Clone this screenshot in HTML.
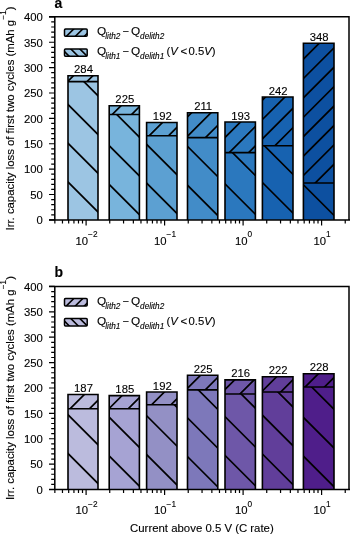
<!DOCTYPE html>
<html><head><meta charset="utf-8"><style>
html,body{margin:0;padding:0;background:#fff;width:350px;height:534px;overflow:hidden}
svg{display:block;will-change:transform}
text{font-family:"Liberation Sans", sans-serif;fill:#000;stroke:#000;stroke-width:0.12px}
</style></head><body>
<svg width="350" height="534" viewBox="0 0 350 534">
<clipPath id="c1"><rect x="68.00" y="81.67" width="30.00" height="138.23"/></clipPath>
<rect x="68.00" y="81.67" width="30.00" height="138.23" fill="#9cc5e3"/>
<path d="M156.53,76.67L304.76,224.90M117.75,76.67L265.98,224.90M78.97,76.67L227.20,224.90M40.19,76.67L188.42,224.90M1.41,76.67L149.64,224.90M-37.37,76.67L110.86,224.90M-76.15,76.67L72.08,224.90M-114.93,76.67L33.30,224.90" stroke="#000" stroke-width="1.7" fill="none" clip-path="url(#c1)"/>
<clipPath id="c2"><rect x="68.00" y="75.73" width="30.00" height="5.94"/></clipPath>
<rect x="68.00" y="75.73" width="30.00" height="5.94" fill="#9cc5e3"/>
<path d="M39.69,70.73L23.75,86.67M59.08,70.73L43.14,86.67M78.47,70.73L62.53,86.67M97.86,70.73L81.92,86.67M117.25,70.73L101.31,86.67M136.64,70.73L120.70,86.67" stroke="#000" stroke-width="1.7" fill="none" clip-path="url(#c2)"/>
<path d="M68.0,219.90V75.73H98.0V219.90M68.0,81.67H98.0" stroke="#000" stroke-width="1.6" fill="none" stroke-linejoin="miter"/>
<text x="83.50" y="73.33" font-size="11.3" text-anchor="middle">284</text>
<clipPath id="c3"><rect x="109.20" y="114.52" width="30.20" height="105.38"/></clipPath>
<rect x="109.20" y="114.52" width="30.20" height="105.38" fill="#78b4dc"/>
<path d="M189.38,109.52L304.76,224.90M150.60,109.52L265.98,224.90M111.82,109.52L227.20,224.90M73.04,109.52L188.42,224.90M34.26,109.52L149.64,224.90M-4.52,109.52L110.86,224.90M-43.30,109.52L72.08,224.90" stroke="#000" stroke-width="1.7" fill="none" clip-path="url(#c3)"/>
<clipPath id="c4"><rect x="109.20" y="105.68" width="30.20" height="8.83"/></clipPath>
<rect x="109.20" y="105.68" width="30.20" height="8.83" fill="#78b4dc"/>
<path d="M87.30,100.68L68.46,119.52M106.69,100.68L87.85,119.52M126.08,100.68L107.24,119.52M145.47,100.68L126.63,119.52M164.86,100.68L146.02,119.52M184.25,100.68L165.41,119.52" stroke="#000" stroke-width="1.7" fill="none" clip-path="url(#c4)"/>
<path d="M109.2,219.90V105.68H139.4V219.90M109.2,114.52H139.4" stroke="#000" stroke-width="1.6" fill="none" stroke-linejoin="miter"/>
<text x="124.80" y="103.28" font-size="11.3" text-anchor="middle">225</text>
<clipPath id="c5"><rect x="146.60" y="135.69" width="30.40" height="84.21"/></clipPath>
<rect x="146.60" y="135.69" width="30.40" height="84.21" fill="#5ca0d2"/>
<path d="M249.33,130.69L343.54,224.90M210.55,130.69L304.76,224.90M171.77,130.69L265.98,224.90M132.99,130.69L227.20,224.90M94.21,130.69L188.42,224.90M55.43,130.69L149.64,224.90M16.65,130.69L110.86,224.90" stroke="#000" stroke-width="1.7" fill="none" clip-path="url(#c5)"/>
<clipPath id="c6"><rect x="146.60" y="122.44" width="30.40" height="13.25"/></clipPath>
<rect x="146.60" y="122.44" width="30.40" height="13.25" fill="#5ca0d2"/>
<path d="M128.71,117.44L105.46,140.69M148.10,117.44L124.85,140.69M167.49,117.44L144.24,140.69M186.88,117.44L163.63,140.69M206.27,117.44L183.02,140.69M225.66,117.44L202.41,140.69" stroke="#000" stroke-width="1.7" fill="none" clip-path="url(#c6)"/>
<path d="M146.6,219.90V122.44H177.0V219.90M146.6,135.69H177.0" stroke="#000" stroke-width="1.6" fill="none" stroke-linejoin="miter"/>
<text x="162.30" y="120.04" font-size="11.3" text-anchor="middle">192</text>
<clipPath id="c7"><rect x="187.50" y="137.61" width="30.30" height="82.29"/></clipPath>
<rect x="187.50" y="137.61" width="30.30" height="82.29" fill="#428cc8"/>
<path d="M290.03,132.61L382.32,224.90M251.25,132.61L343.54,224.90M212.47,132.61L304.76,224.90M173.69,132.61L265.98,224.90M134.91,132.61L227.20,224.90M96.13,132.61L188.42,224.90M57.35,132.61L149.64,224.90" stroke="#000" stroke-width="1.7" fill="none" clip-path="url(#c7)"/>
<clipPath id="c8"><rect x="187.50" y="112.79" width="30.30" height="24.82"/></clipPath>
<rect x="187.50" y="112.79" width="30.30" height="24.82" fill="#428cc8"/>
<path d="M157.75,107.79L122.93,142.61M177.14,107.79L142.32,142.61M196.53,107.79L161.71,142.61M215.92,107.79L181.10,142.61M235.31,107.79L200.49,142.61M254.70,107.79L219.88,142.61M274.09,107.79L239.27,142.61" stroke="#000" stroke-width="1.7" fill="none" clip-path="url(#c8)"/>
<path d="M187.5,219.90V112.79H217.8V219.90M187.5,137.61H217.8" stroke="#000" stroke-width="1.6" fill="none" stroke-linejoin="miter"/>
<text x="203.15" y="110.39" font-size="11.3" text-anchor="middle">211</text>
<clipPath id="c9"><rect x="225.00" y="152.59" width="30.40" height="67.31"/></clipPath>
<rect x="225.00" y="152.59" width="30.40" height="67.31" fill="#2b78be"/>
<path d="M305.01,147.59L382.32,224.90M266.23,147.59L343.54,224.90M227.45,147.59L304.76,224.90M188.67,147.59L265.98,224.90M149.89,147.59L227.20,224.90M111.11,147.59L188.42,224.90" stroke="#000" stroke-width="1.7" fill="none" clip-path="url(#c9)"/>
<clipPath id="c10"><rect x="225.00" y="121.93" width="30.40" height="30.66"/></clipPath>
<rect x="225.00" y="121.93" width="30.40" height="30.66" fill="#2b78be"/>
<path d="M206.78,116.93L166.12,157.59M226.17,116.93L185.51,157.59M245.56,116.93L204.90,157.59M264.95,116.93L224.29,157.59M284.34,116.93L243.68,157.59M303.73,116.93L263.07,157.59M323.12,116.93L282.46,157.59" stroke="#000" stroke-width="1.7" fill="none" clip-path="url(#c10)"/>
<path d="M225.0,219.90V121.93H255.4V219.90M225.0,152.59H255.4" stroke="#000" stroke-width="1.6" fill="none" stroke-linejoin="miter"/>
<text x="240.70" y="119.53" font-size="11.3" text-anchor="middle">193</text>
<clipPath id="c11"><rect x="262.40" y="145.79" width="30.60" height="74.11"/></clipPath>
<rect x="262.40" y="145.79" width="30.60" height="74.11" fill="#1762b0"/>
<path d="M336.99,140.79L421.10,224.90M298.21,140.79L382.32,224.90M259.43,140.79L343.54,224.90M220.65,140.79L304.76,224.90M181.87,140.79L265.98,224.90M143.09,140.79L227.20,224.90" stroke="#000" stroke-width="1.7" fill="none" clip-path="url(#c11)"/>
<clipPath id="c12"><rect x="262.40" y="97.05" width="30.60" height="48.73"/></clipPath>
<rect x="262.40" y="97.05" width="30.60" height="48.73" fill="#1762b0"/>
<path d="M231.66,92.05L172.92,150.79M251.05,92.05L192.31,150.79M270.44,92.05L211.70,150.79M289.83,92.05L231.09,150.79M309.22,92.05L250.48,150.79M328.61,92.05L269.87,150.79M348.00,92.05L289.26,150.79M367.39,92.05L308.65,150.79" stroke="#000" stroke-width="1.7" fill="none" clip-path="url(#c12)"/>
<path d="M262.4,219.90V97.05H293.0V219.90M262.4,145.79H293.0" stroke="#000" stroke-width="1.6" fill="none" stroke-linejoin="miter"/>
<text x="278.20" y="94.65" font-size="11.3" text-anchor="middle">242</text>
<clipPath id="c13"><rect x="303.40" y="183.00" width="30.60" height="36.90"/></clipPath>
<rect x="303.40" y="183.00" width="30.60" height="36.90" fill="#0d50a0"/>
<path d="M374.20,178.00L421.10,224.90M335.42,178.00L382.32,224.90M296.64,178.00L343.54,224.90M257.86,178.00L304.76,224.90M219.08,178.00L265.98,224.90" stroke="#000" stroke-width="1.7" fill="none" clip-path="url(#c13)"/>
<clipPath id="c14"><rect x="303.40" y="43.25" width="30.60" height="139.75"/></clipPath>
<rect x="303.40" y="43.25" width="30.60" height="139.75" fill="#0d50a0"/>
<path d="M285.46,38.25L135.71,188.00M304.85,38.25L155.10,188.00M324.24,38.25L174.49,188.00M343.63,38.25L193.88,188.00M363.02,38.25L213.27,188.00M382.41,38.25L232.66,188.00M401.80,38.25L252.05,188.00M421.19,38.25L271.44,188.00M440.58,38.25L290.83,188.00M459.97,38.25L310.22,188.00M479.36,38.25L329.61,188.00M498.75,38.25L349.00,188.00" stroke="#000" stroke-width="1.7" fill="none" clip-path="url(#c14)"/>
<path d="M303.4,219.90V43.25H334.0V219.90M303.4,183.00H334.0" stroke="#000" stroke-width="1.6" fill="none" stroke-linejoin="miter"/>
<text x="319.20" y="40.85" font-size="11.3" text-anchor="middle">348</text>
<path d="M49,16.85H349.0V219.90M54.8,16.85V219.90M49,219.90H350" stroke="#000" stroke-width="1.5" fill="none"/>
<path d="M49,219.90H54.8M51.2,214.82H54.8M51.2,209.75H54.8M51.2,204.67H54.8M51.2,199.59H54.8M49,194.52H54.8M51.2,189.44H54.8M51.2,184.37H54.8M51.2,179.29H54.8M51.2,174.21H54.8M49,169.14H54.8M51.2,164.06H54.8M51.2,158.99H54.8M51.2,153.91H54.8M51.2,148.83H54.8M49,143.76H54.8M51.2,138.68H54.8M51.2,133.60H54.8M51.2,128.53H54.8M51.2,123.45H54.8M49,118.38H54.8M51.2,113.30H54.8M51.2,108.22H54.8M51.2,103.15H54.8M51.2,98.07H54.8M49,92.99H54.8M51.2,87.92H54.8M51.2,82.84H54.8M51.2,77.77H54.8M51.2,72.69H54.8M49,67.61H54.8M51.2,62.54H54.8M51.2,57.46H54.8M51.2,52.38H54.8M51.2,47.31H54.8M49,42.23H54.8M51.2,37.16H54.8M51.2,32.08H54.8M51.2,27.00H54.8M51.2,21.93H54.8M49,16.85H54.8M54.86,219.90V223.40M62.47,219.90V223.40M68.68,219.90V223.40M73.94,219.90V223.40M78.49,219.90V223.40M82.51,219.90V223.40M86.10,219.90V225.50M109.73,219.90V223.40M123.55,219.90V223.40M133.36,219.90V223.40M140.97,219.90V223.40M147.18,219.90V223.40M152.44,219.90V223.40M156.99,219.90V223.40M161.01,219.90V223.40M164.60,219.90V225.50M188.23,219.90V223.40M202.05,219.90V223.40M211.86,219.90V223.40M219.47,219.90V223.40M225.68,219.90V223.40M230.94,219.90V223.40M235.49,219.90V223.40M239.51,219.90V223.40M243.10,219.90V225.50M266.73,219.90V223.40M280.55,219.90V223.40M290.36,219.90V223.40M297.97,219.90V223.40M304.18,219.90V223.40M309.44,219.90V223.40M313.99,219.90V223.40M318.01,219.90V223.40M321.60,219.90V225.50M345.23,219.90V223.40" stroke="#000" stroke-width="1.2" fill="none"/>
<text x="42.8" y="224.20" font-size="11.3" text-anchor="end">0</text>
<text x="42.8" y="198.82" font-size="11.3" text-anchor="end">50</text>
<text x="42.8" y="173.44" font-size="11.3" text-anchor="end">100</text>
<text x="42.8" y="148.06" font-size="11.3" text-anchor="end">150</text>
<text x="42.8" y="122.67" font-size="11.3" text-anchor="end">200</text>
<text x="42.8" y="97.29" font-size="11.3" text-anchor="end">250</text>
<text x="42.8" y="71.91" font-size="11.3" text-anchor="end">300</text>
<text x="42.8" y="46.53" font-size="11.3" text-anchor="end">350</text>
<text x="42.8" y="21.15" font-size="11.3" text-anchor="end">400</text>
<text x="75.48" y="244.70" font-size="11.3">10</text>
<text x="88.05" y="236.90" font-size="8.3">−2</text>
<text x="153.98" y="244.70" font-size="11.3">10</text>
<text x="166.55" y="236.90" font-size="8.3">−1</text>
<text x="234.91" y="244.70" font-size="11.3">10</text>
<text x="247.48" y="236.90" font-size="8.3">0</text>
<text x="313.41" y="244.70" font-size="11.3">10</text>
<text x="325.98" y="236.90" font-size="8.3">1</text>
<text x="54.6" y="7.70" font-size="14" font-weight="bold">a</text>
<text transform="translate(13.8,230.50) rotate(-90)" font-size="11.35">Irr. capacity loss of first two cycles (mAh g<tspan font-size="8.3" dy="-7.8" dx="0.3">−1</tspan><tspan dy="7.8">)</tspan></text>
<clipPath id="c15"><rect x="64.5" y="28.90" width="22.70" height="7.4"/></clipPath>
<rect x="64.5" y="28.90" width="22.70" height="7.4" fill="#9cc5e3"/>
<path d="M38.40,37.30L47.80,27.90M47.40,37.30L56.80,27.90M56.40,37.30L65.80,27.90M65.40,37.30L74.80,27.90M74.40,37.30L83.80,27.90M83.40,37.30L92.80,27.90M92.40,37.30L101.80,27.90M101.40,37.30L110.80,27.90M110.40,37.30L119.80,27.90" stroke="#000" stroke-width="1.6" fill="none" clip-path="url(#c15)"/>
<rect x="64.5" y="28.90" width="22.70" height="7.4" rx="1" fill="none" stroke="#000" stroke-width="1.5"/>
<text x="96.9" y="35.40" font-size="11.8">Q</text>
<text x="105.3" y="38.90" font-size="8.2" font-style="italic">lith2</text>
<text x="122.6" y="35.40" font-size="11.3">−</text>
<text x="131.1" y="35.40" font-size="11.8">Q</text>
<text x="140.1" y="38.90" font-size="8.2" font-style="italic">delith2</text>
<clipPath id="c16"><rect x="64.5" y="48.90" width="22.70" height="7.4"/></clipPath>
<rect x="64.5" y="48.90" width="22.70" height="7.4" fill="#9cc5e3"/>
<path d="M42.80,47.90L52.20,57.30M51.80,47.90L61.20,57.30M60.80,47.90L70.20,57.30M69.80,47.90L79.20,57.30M78.80,47.90L88.20,57.30M87.80,47.90L97.20,57.30M96.80,47.90L106.20,57.30M105.80,47.90L115.20,57.30M114.80,47.90L124.20,57.30" stroke="#000" stroke-width="1.6" fill="none" clip-path="url(#c16)"/>
<rect x="64.5" y="48.90" width="22.70" height="7.4" rx="1" fill="none" stroke="#000" stroke-width="1.5"/>
<text x="96.9" y="55.40" font-size="11.8">Q</text>
<text x="105.3" y="58.90" font-size="8.2" font-style="italic">lith1</text>
<text x="122.6" y="55.40" font-size="11.3">−</text>
<text x="131.1" y="55.40" font-size="11.8">Q</text>
<text x="140.1" y="58.90" font-size="8.2" font-style="italic">delith1</text>
<text x="166.6" y="55.40" font-size="11.3">(<tspan font-style="italic">V</tspan><tspan dx="2.6">&lt;</tspan><tspan dx="1.4">0.5</tspan><tspan font-style="italic">V</tspan>)</text>
<clipPath id="c17"><rect x="68.00" y="408.69" width="30.00" height="80.81"/></clipPath>
<rect x="68.00" y="408.69" width="30.00" height="80.81" fill="#bbbbdd"/>
<path d="M134.53,403.69L225.34,494.50M95.75,403.69L186.56,494.50M56.97,403.69L147.78,494.50M18.19,403.69L109.00,494.50M-20.59,403.69L70.22,494.50M-59.37,403.69L31.44,494.50" stroke="#000" stroke-width="1.7" fill="none" clip-path="url(#c17)"/>
<clipPath id="c18"><rect x="68.00" y="394.57" width="30.00" height="14.11"/></clipPath>
<rect x="68.00" y="394.57" width="30.00" height="14.11" fill="#bbbbdd"/>
<path d="M50.48,389.57L26.36,413.69M69.87,389.57L45.75,413.69M89.26,389.57L65.14,413.69M108.65,389.57L84.53,413.69M128.04,389.57L103.92,413.69M147.43,389.57L123.31,413.69" stroke="#000" stroke-width="1.7" fill="none" clip-path="url(#c18)"/>
<path d="M68.0,489.50V394.57H98.0V489.50M68.0,408.69H98.0" stroke="#000" stroke-width="1.6" fill="none" stroke-linejoin="miter"/>
<text x="83.50" y="392.17" font-size="11.3" text-anchor="middle">187</text>
<clipPath id="c19"><rect x="109.20" y="408.69" width="30.20" height="80.81"/></clipPath>
<rect x="109.20" y="408.69" width="30.20" height="80.81" fill="#a6a3d3"/>
<path d="M173.31,403.69L264.12,494.50M134.53,403.69L225.34,494.50M95.75,403.69L186.56,494.50M56.97,403.69L147.78,494.50M18.19,403.69L109.00,494.50M-20.59,403.69L70.22,494.50" stroke="#000" stroke-width="1.7" fill="none" clip-path="url(#c19)"/>
<clipPath id="c20"><rect x="109.20" y="395.59" width="30.20" height="13.10"/></clipPath>
<rect x="109.20" y="395.59" width="30.20" height="13.10" fill="#a6a3d3"/>
<path d="M88.24,390.59L65.14,413.69M107.63,390.59L84.53,413.69M127.02,390.59L103.92,413.69M146.41,390.59L123.31,413.69M165.80,390.59L142.70,413.69M185.19,390.59L162.09,413.69" stroke="#000" stroke-width="1.7" fill="none" clip-path="url(#c20)"/>
<path d="M109.2,489.50V395.59H139.4V489.50M109.2,408.69H139.4" stroke="#000" stroke-width="1.6" fill="none" stroke-linejoin="miter"/>
<text x="124.80" y="393.19" font-size="11.3" text-anchor="middle">185</text>
<clipPath id="c21"><rect x="146.60" y="404.78" width="30.40" height="84.72"/></clipPath>
<rect x="146.60" y="404.78" width="30.40" height="84.72" fill="#9390c5"/>
<path d="M246.96,399.78L341.68,494.50M208.18,399.78L302.90,494.50M169.40,399.78L264.12,494.50M130.62,399.78L225.34,494.50M91.84,399.78L186.56,494.50M53.06,399.78L147.78,494.50M14.28,399.78L109.00,494.50" stroke="#000" stroke-width="1.7" fill="none" clip-path="url(#c21)"/>
<clipPath id="c22"><rect x="146.60" y="392.04" width="30.40" height="12.74"/></clipPath>
<rect x="146.60" y="392.04" width="30.40" height="12.74" fill="#9390c5"/>
<path d="M130.57,387.04L107.83,409.78M149.96,387.04L127.22,409.78M169.35,387.04L146.61,409.78M188.74,387.04L166.00,409.78M208.13,387.04L185.39,409.78M227.52,387.04L204.78,409.78" stroke="#000" stroke-width="1.7" fill="none" clip-path="url(#c22)"/>
<path d="M146.6,489.50V392.04H177.0V489.50M146.6,404.78H177.0" stroke="#000" stroke-width="1.6" fill="none" stroke-linejoin="miter"/>
<text x="162.30" y="389.64" font-size="11.3" text-anchor="middle">192</text>
<clipPath id="c23"><rect x="187.50" y="389.90" width="30.30" height="99.60"/></clipPath>
<rect x="187.50" y="389.90" width="30.30" height="99.60" fill="#7d78ba"/>
<path d="M270.86,384.90L380.46,494.50M232.08,384.90L341.68,494.50M193.30,384.90L302.90,494.50M154.52,384.90L264.12,494.50M115.74,384.90L225.34,494.50M76.96,384.90L186.56,494.50M38.18,384.90L147.78,494.50" stroke="#000" stroke-width="1.7" fill="none" clip-path="url(#c23)"/>
<clipPath id="c24"><rect x="187.50" y="375.28" width="30.30" height="14.62"/></clipPath>
<rect x="187.50" y="375.28" width="30.30" height="14.62" fill="#7d78ba"/>
<path d="M166.72,370.28L142.10,394.90M186.11,370.28L161.49,394.90M205.50,370.28L180.88,394.90M224.89,370.28L200.27,394.90M244.28,370.28L219.66,394.90M263.67,370.28L239.05,394.90" stroke="#000" stroke-width="1.7" fill="none" clip-path="url(#c24)"/>
<path d="M187.5,489.50V375.28H217.8V489.50M187.5,389.90H217.8" stroke="#000" stroke-width="1.6" fill="none" stroke-linejoin="miter"/>
<text x="203.15" y="372.88" font-size="11.3" text-anchor="middle">225</text>
<clipPath id="c25"><rect x="225.00" y="394.07" width="30.40" height="95.43"/></clipPath>
<rect x="225.00" y="394.07" width="30.40" height="95.43" fill="#6e57a8"/>
<path d="M313.81,389.07L419.24,494.50M275.03,389.07L380.46,494.50M236.25,389.07L341.68,494.50M197.47,389.07L302.90,494.50M158.69,389.07L264.12,494.50M119.91,389.07L225.34,494.50M81.13,389.07L186.56,494.50" stroke="#000" stroke-width="1.7" fill="none" clip-path="url(#c25)"/>
<clipPath id="c26"><rect x="225.00" y="379.85" width="30.40" height="14.21"/></clipPath>
<rect x="225.00" y="379.85" width="30.40" height="14.21" fill="#6e57a8"/>
<path d="M200.93,374.85L176.71,399.07M220.32,374.85L196.10,399.07M239.71,374.85L215.49,399.07M259.10,374.85L234.88,399.07M278.49,374.85L254.27,399.07M297.88,374.85L273.66,399.07" stroke="#000" stroke-width="1.7" fill="none" clip-path="url(#c26)"/>
<path d="M225.0,489.50V379.85H255.4V489.50M225.0,394.07H255.4" stroke="#000" stroke-width="1.6" fill="none" stroke-linejoin="miter"/>
<text x="240.70" y="377.45" font-size="11.3" text-anchor="middle">216</text>
<clipPath id="c27"><rect x="262.40" y="391.99" width="30.60" height="97.51"/></clipPath>
<rect x="262.40" y="391.99" width="30.60" height="97.51" fill="#613e9a"/>
<path d="M350.51,386.99L458.02,494.50M311.73,386.99L419.24,494.50M272.95,386.99L380.46,494.50M234.17,386.99L341.68,494.50M195.39,386.99L302.90,494.50M156.61,386.99L264.12,494.50M117.83,386.99L225.34,494.50" stroke="#000" stroke-width="1.7" fill="none" clip-path="url(#c27)"/>
<clipPath id="c28"><rect x="262.40" y="376.81" width="30.60" height="15.18"/></clipPath>
<rect x="262.40" y="376.81" width="30.60" height="15.18" fill="#613e9a"/>
<path d="M242.75,371.81L217.57,396.99M262.14,371.81L236.96,396.99M281.53,371.81L256.35,396.99M300.92,371.81L275.74,396.99M320.31,371.81L295.13,396.99M339.70,371.81L314.52,396.99" stroke="#000" stroke-width="1.7" fill="none" clip-path="url(#c28)"/>
<path d="M262.4,489.50V376.81H293.0V489.50M262.4,391.99H293.0" stroke="#000" stroke-width="1.6" fill="none" stroke-linejoin="miter"/>
<text x="278.20" y="374.41" font-size="11.3" text-anchor="middle">222</text>
<clipPath id="c29"><rect x="303.40" y="386.96" width="30.60" height="102.54"/></clipPath>
<rect x="303.40" y="386.96" width="30.60" height="102.54" fill="#4f1e8a"/>
<path d="M384.26,381.96L496.80,494.50M345.48,381.96L458.02,494.50M306.70,381.96L419.24,494.50M267.92,381.96L380.46,494.50M229.14,381.96L341.68,494.50M190.36,381.96L302.90,494.50M151.58,381.96L264.12,494.50" stroke="#000" stroke-width="1.7" fill="none" clip-path="url(#c29)"/>
<clipPath id="c30"><rect x="303.40" y="373.76" width="30.60" height="13.20"/></clipPath>
<rect x="303.40" y="373.76" width="30.60" height="13.20" fill="#4f1e8a"/>
<path d="M284.58,368.76L261.38,391.96M303.97,368.76L280.77,391.96M323.36,368.76L300.16,391.96M342.75,368.76L319.55,391.96M362.14,368.76L338.94,391.96M381.53,368.76L358.33,391.96" stroke="#000" stroke-width="1.7" fill="none" clip-path="url(#c30)"/>
<path d="M303.4,489.50V373.76H334.0V489.50M303.4,386.96H334.0" stroke="#000" stroke-width="1.6" fill="none" stroke-linejoin="miter"/>
<text x="319.20" y="371.36" font-size="11.3" text-anchor="middle">228</text>
<path d="M49,286.45H349.0V489.50M54.8,286.45V489.50M49,489.50H350" stroke="#000" stroke-width="1.5" fill="none"/>
<path d="M49,489.50H54.8M51.2,484.42H54.8M51.2,479.35H54.8M51.2,474.27H54.8M51.2,469.19H54.8M49,464.12H54.8M51.2,459.04H54.8M51.2,453.97H54.8M51.2,448.89H54.8M51.2,443.81H54.8M49,438.74H54.8M51.2,433.66H54.8M51.2,428.58H54.8M51.2,423.51H54.8M51.2,418.43H54.8M49,413.36H54.8M51.2,408.28H54.8M51.2,403.20H54.8M51.2,398.13H54.8M51.2,393.05H54.8M49,387.98H54.8M51.2,382.90H54.8M51.2,377.82H54.8M51.2,372.75H54.8M51.2,367.67H54.8M49,362.59H54.8M51.2,357.52H54.8M51.2,352.44H54.8M51.2,347.37H54.8M51.2,342.29H54.8M49,337.21H54.8M51.2,332.14H54.8M51.2,327.06H54.8M51.2,321.98H54.8M51.2,316.91H54.8M49,311.83H54.8M51.2,306.75H54.8M51.2,301.68H54.8M51.2,296.60H54.8M51.2,291.53H54.8M49,286.45H54.8M54.86,489.50V493.00M62.47,489.50V493.00M68.68,489.50V493.00M73.94,489.50V493.00M78.49,489.50V493.00M82.51,489.50V493.00M86.10,489.50V495.10M109.73,489.50V493.00M123.55,489.50V493.00M133.36,489.50V493.00M140.97,489.50V493.00M147.18,489.50V493.00M152.44,489.50V493.00M156.99,489.50V493.00M161.01,489.50V493.00M164.60,489.50V495.10M188.23,489.50V493.00M202.05,489.50V493.00M211.86,489.50V493.00M219.47,489.50V493.00M225.68,489.50V493.00M230.94,489.50V493.00M235.49,489.50V493.00M239.51,489.50V493.00M243.10,489.50V495.10M266.73,489.50V493.00M280.55,489.50V493.00M290.36,489.50V493.00M297.97,489.50V493.00M304.18,489.50V493.00M309.44,489.50V493.00M313.99,489.50V493.00M318.01,489.50V493.00M321.60,489.50V495.10M345.23,489.50V493.00" stroke="#000" stroke-width="1.2" fill="none"/>
<text x="42.8" y="493.80" font-size="11.3" text-anchor="end">0</text>
<text x="42.8" y="468.42" font-size="11.3" text-anchor="end">50</text>
<text x="42.8" y="443.04" font-size="11.3" text-anchor="end">100</text>
<text x="42.8" y="417.66" font-size="11.3" text-anchor="end">150</text>
<text x="42.8" y="392.28" font-size="11.3" text-anchor="end">200</text>
<text x="42.8" y="366.89" font-size="11.3" text-anchor="end">250</text>
<text x="42.8" y="341.51" font-size="11.3" text-anchor="end">300</text>
<text x="42.8" y="316.13" font-size="11.3" text-anchor="end">350</text>
<text x="42.8" y="290.75" font-size="11.3" text-anchor="end">400</text>
<text x="75.48" y="514.30" font-size="11.3">10</text>
<text x="88.05" y="506.50" font-size="8.3">−2</text>
<text x="153.98" y="514.30" font-size="11.3">10</text>
<text x="166.55" y="506.50" font-size="8.3">−1</text>
<text x="234.91" y="514.30" font-size="11.3">10</text>
<text x="247.48" y="506.50" font-size="8.3">0</text>
<text x="313.41" y="514.30" font-size="11.3">10</text>
<text x="325.98" y="506.50" font-size="8.3">1</text>
<text x="54.6" y="276.80" font-size="14" font-weight="bold">b</text>
<text transform="translate(13.8,500.10) rotate(-90)" font-size="11.35">Irr. capacity loss of first two cycles (mAh g<tspan font-size="8.3" dy="-7.8" dx="0.3">−1</tspan><tspan dy="7.8">)</tspan></text>
<clipPath id="c31"><rect x="64.5" y="298.50" width="22.70" height="7.4"/></clipPath>
<rect x="64.5" y="298.50" width="22.70" height="7.4" fill="#bbbbdd"/>
<path d="M38.40,306.90L47.80,297.50M47.40,306.90L56.80,297.50M56.40,306.90L65.80,297.50M65.40,306.90L74.80,297.50M74.40,306.90L83.80,297.50M83.40,306.90L92.80,297.50M92.40,306.90L101.80,297.50M101.40,306.90L110.80,297.50M110.40,306.90L119.80,297.50" stroke="#000" stroke-width="1.6" fill="none" clip-path="url(#c31)"/>
<rect x="64.5" y="298.50" width="22.70" height="7.4" rx="1" fill="none" stroke="#000" stroke-width="1.5"/>
<text x="96.9" y="305.00" font-size="11.8">Q</text>
<text x="105.3" y="308.50" font-size="8.2" font-style="italic">lith2</text>
<text x="122.6" y="305.00" font-size="11.3">−</text>
<text x="131.1" y="305.00" font-size="11.8">Q</text>
<text x="140.1" y="308.50" font-size="8.2" font-style="italic">delith2</text>
<clipPath id="c32"><rect x="64.5" y="318.50" width="22.70" height="7.4"/></clipPath>
<rect x="64.5" y="318.50" width="22.70" height="7.4" fill="#bbbbdd"/>
<path d="M42.80,317.50L52.20,326.90M51.80,317.50L61.20,326.90M60.80,317.50L70.20,326.90M69.80,317.50L79.20,326.90M78.80,317.50L88.20,326.90M87.80,317.50L97.20,326.90M96.80,317.50L106.20,326.90M105.80,317.50L115.20,326.90M114.80,317.50L124.20,326.90" stroke="#000" stroke-width="1.6" fill="none" clip-path="url(#c32)"/>
<rect x="64.5" y="318.50" width="22.70" height="7.4" rx="1" fill="none" stroke="#000" stroke-width="1.5"/>
<text x="96.9" y="325.00" font-size="11.8">Q</text>
<text x="105.3" y="328.50" font-size="8.2" font-style="italic">lith1</text>
<text x="122.6" y="325.00" font-size="11.3">−</text>
<text x="131.1" y="325.00" font-size="11.8">Q</text>
<text x="140.1" y="328.50" font-size="8.2" font-style="italic">delith1</text>
<text x="166.6" y="325.00" font-size="11.3">(<tspan font-style="italic">V</tspan><tspan dx="2.6">&lt;</tspan><tspan dx="1.4">0.5</tspan><tspan font-style="italic">V</tspan>)</text>
<text x="201.9" y="532" font-size="11.4" text-anchor="middle">Current above 0.5 V (C rate)</text>
</svg></body></html>
